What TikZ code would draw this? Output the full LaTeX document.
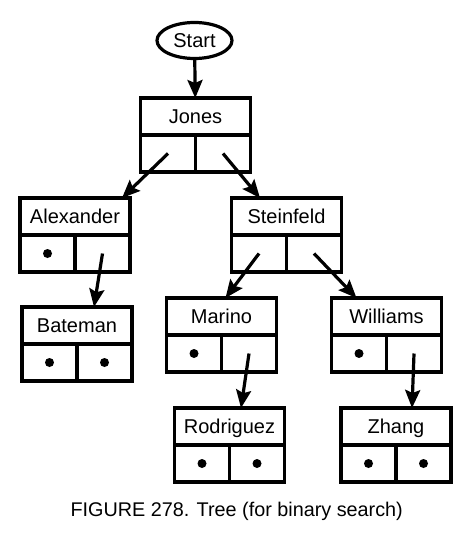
\documentclass[tikz,border=0pt]{standalone}
\usepackage{fontspec}
\setmainfont{Liberation Sans}
\usetikzlibrary{arrows.meta,shapes.geometric}
\tikzstyle{start-node}=[ellipse,draw,line width=3.2pt,minimum width=75pt,minimum height=36pt,inner sep=0pt,font=\fontsize{20}{22}\selectfont]
\tikzstyle{name-cell}=[rectangle,draw,line width=3.2pt,outer sep=0pt,minimum width=110pt,minimum height=37pt,inner sep=0pt,text height=13.5pt,text depth=0pt,font=\fontsize{20}{22}\selectfont]
\tikzstyle{ptr-cell}=[rectangle,draw,line width=3.2pt,outer sep=0pt,minimum width=55pt,minimum height=37pt,inner sep=0pt]
\tikzstyle{nil-cell}=[ptr-cell,path picture={\fill (path picture bounding box.center) circle (4.5pt);}]
\tikzstyle{black-line}=[draw=black,line width=3.2pt]

\begin{document}
\begin{tikzpicture}[x=1pt,y=-1pt]
	\useasboundingbox (0,0) rectangle (470,534);
	\begin{scope}
	\node (start)[start-node] at (194.5,40.5) {Start};
	
	\node (jones)[name-cell] at (195.5,116.5) {Jones};
	\node (jones-l)[ptr-cell,anchor=north east] at (jones.south) {};
	\node (jones-r)[ptr-cell,anchor=north west] at (jones.south) {};
	
	\node (alex)[name-cell] at (75,216.5) {Alexander};
	\node (alex-l)[nil-cell,anchor=north east] at (alex.south) {};
	\node (alex-r)[ptr-cell,anchor=north west] at (alex.south) {};
	
	\node (bate)[name-cell] at (77,325.5) {Bateman};
	\node (bate-l)[nil-cell,anchor=north east] at (bate.south) {};
	\node (bate-r)[nil-cell,anchor=north west] at (bate.south) {};
	
	\node (stein)[name-cell] at (286.5,216.5) {Steinfeld};
	\node (stein-l)[ptr-cell,anchor=north east] at (stein.south) {};
	\node (stein-r)[ptr-cell,anchor=north west] at (stein.south) {};
	
	\node (marino)[name-cell] at (221.5,316.5) {Marino};
	\node (marino-l)[nil-cell,anchor=north east] at (marino.south) {};
	\node (marino-r)[ptr-cell,anchor=north west] at (marino.south) {};
	
	\node (will)[name-cell] at (386.5,316.5) {Williams};
	\node (will-l)[nil-cell,anchor=north east] at (will.south) {};
	\node (will-r)[ptr-cell,anchor=north west] at (will.south) {};
	
	\node (rodr)[name-cell] at (229.5,426.5) {Rodriguez};
	\node (rodr-l)[nil-cell,anchor=north east] at (rodr.south) {};
	\node (rodr-r)[nil-cell,anchor=north west] at (rodr.south) {};
	
	\node (zhang)[name-cell] at (396,426.5) {Zhang};
	\node (zhang-l)[nil-cell,anchor=north east] at (zhang.south) {};
	\node (zhang-r)[nil-cell,anchor=north west] at (zhang.south) {};
	
	\node (caption)[anchor=base,font=\fontsize{19.8}{22}\selectfont] at (236.7,516) {FIGURE 278. Tree (for binary search)};
	\end{scope}
	
	\begin{scope}[>={Stealth[length=18pt,width=15pt,inset=3pt]}, every edge/.style=black-line]
	\path [->] (start) edge (jones);
	\path [->] (jones-l.center) edge ([xshift=47pt]alex.north);
	\path [->] (jones-r.center) edge ([xshift=-26.5pt]stein.north);
	\path [->] (alex-r.center) edge ([xshift=17pt]bate.north);
	\path [->] (stein-l.center) edge ([xshift=4pt]marino.north);
	\path [->] (stein-r.center) edge ([xshift=-30pt]will.north);
	\path [->] (marino-r.center) edge ([xshift=11.5pt]rodr.north);
	\path [->] (will-r.center) edge ([xshift=16pt]zhang.north);
	\end{scope}
\end{tikzpicture}
\end{document}
